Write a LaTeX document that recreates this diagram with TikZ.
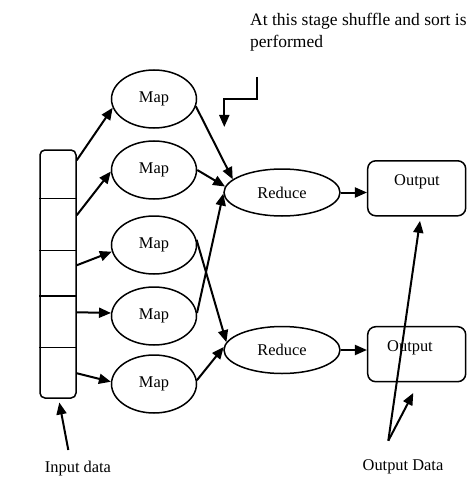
\documentclass[tikz,border=0pt]{standalone}
\usepackage{fontspec}
\setmainfont{Liberation Serif}
\usetikzlibrary{arrows.meta,calc,shapes.geometric}
\begin{document}
\begin{tikzpicture}[x=1pt,y=-1pt,
  every node/.style={font=\fontsize{16.4}{22}\selectfont},
  mapnode/.style={ellipse,draw,line width=1.5pt,minimum width=85pt,minimum height=58pt,inner sep=0pt},
  rednode/.style={ellipse,draw,line width=1.5pt,minimum width=116pt,minimum height=47pt,inner sep=0pt},
  outbox/.style={rectangle,draw,rounded corners=8pt,line width=1.5pt,minimum width=98pt,minimum height=55pt,inner sep=0pt},
  inbox/.style={rectangle,draw,rounded corners=5pt,line width=1.5pt,minimum width=36pt,minimum height=248pt,inner sep=0pt},
  arr/.style={line width=2pt,-{Triangle[length=12pt,width=10pt]}},
  divider/.style={line width=1.5pt},
  plain/.style={inner sep=0pt}
]
\useasboundingbox (0,0) rectangle (474,484);

% input column
\node[inbox] (inp) at (58,274) {};
\foreach \yy in {198.7,250.7,296,347.3}
  \draw[divider] (inp.west |- 0,\yy) -- (inp.east |- 0,\yy);

% map nodes
\node[mapnode] (m1) at (154,99) {Map};
\node[mapnode] (m2) at (154,170) {Map};
\node[mapnode] (m3) at (154,245) {Map};
\node[mapnode] (m4) at (154,316) {Map};
\node[mapnode] (m5) at (154,384) {Map};

% reduce nodes
\node[rednode] (r1) at (282,192.5) {Reduce};
\node[rednode] (r2) at (282,350) {Reduce};

% output boxes
\node[outbox] (o1) at (416.7,188.3) {};
\node[plain] (o1t) at (417,181.7) {Output};
\node[outbox] (o2) at (416.7,354.2) {};
\node[plain] (o2t) at (410,348) {Output};

% annotation
\node[plain, anchor=base west, align=left, font=\fontsize{17.5}{22}\selectfont] (note) at (250,48) {At this stage shuffle and sort is\\performed};
\coordinate (bendtop) at (257,77);
\coordinate (bendtip) at (224.3,127);
\draw[arr] (bendtop) -- (257,99.3) -| (bendtip);

% labels
\node[plain] (inlbl) at (78,469) {Input data};
\node[plain] (outlbl) at (403,467) {Output Data};
\coordinate (ia) at (68.3,450);
\coordinate (od) at (388.3,440.7);

% input -> maps
\draw[arr] ($(inp.north east)+(0,11)$) -- (m1.192);
\draw[arr] ($(inp.north east)+(0,66)$) -- (m2.182);
\draw[arr] ($(inp.north east)+(0,116)$) -- (m3.189);
\draw[arr] ($(inp.north east)+(0,163)$) -- (m4.176);
\draw[arr] ($(inp.north east)+(0,224)$) -- (m5.177);

% maps -> reduces
\draw[arr] (m1.350) -- (r1.165);
\draw[arr] (m2.0) -- (r1.174);
\draw[arr] (m4.4) -- (r1.181);
\draw[arr] (m3.7) -- (r2.172);
\draw[arr] (m5.5) -- (r2.177);

% reduces -> outputs
\draw[arr] (r1.east) -- (r1.east -| o1.west);
\draw[arr] (r2.east) -- (r2.east -| o2.west);

% input data arrow
\draw[arr] (ia) -- ($(inp.south)+(1.3,3.7)$);

% output data arrows
\draw[arr] (od) -- ($(o1.south)+(3.3,4.3)$);
\draw[arr] (od) -- ($(o2.south)+(-3.4,10.5)$);
\end{tikzpicture}
\end{document}
